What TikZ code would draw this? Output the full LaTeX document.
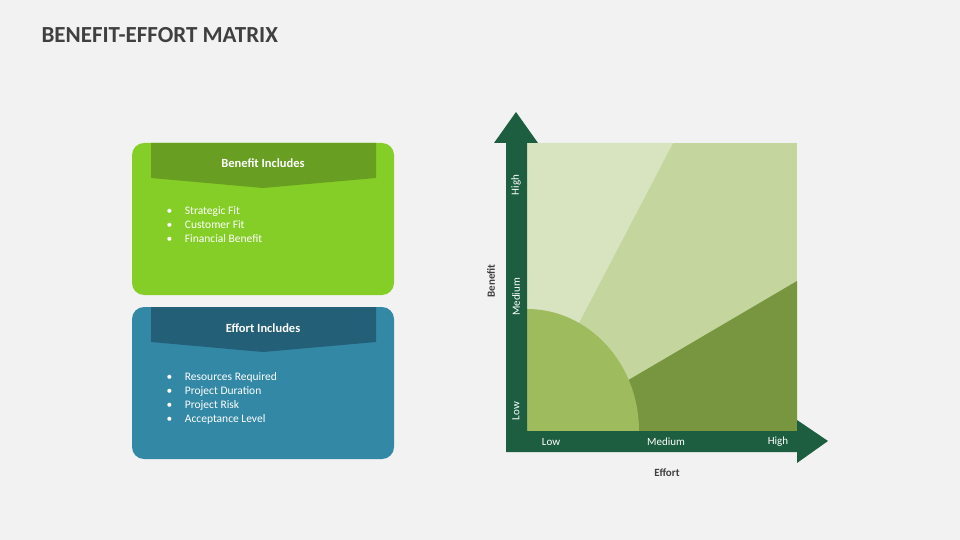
\documentclass[tikz,border=0pt]{standalone}
\usepackage{fontspec}
\setmainfont{Carlito}
\begin{document}
\begin{tikzpicture}[x=1pt,y=-1pt,
  tick/.style={text=white,font=\fontsize{11}{12}\selectfont},
  item/.style={text=white,font=\fontsize{11.5}{14}\selectfont,anchor=north west,align=left},
  head/.style={text=white,font=\bfseries\fontsize{12.5}{14}\selectfont}]
\definecolor{bg}{HTML}{F2F2F2}
\definecolor{axisg}{HTML}{1E5E40}
\definecolor{lt}{HTML}{D8E4C0}
\definecolor{md}{HTML}{C4D69E}
\definecolor{dk}{HTML}{77963F}
\definecolor{cr}{HTML}{9EBB5E}
\definecolor{gbox}{HTML}{85CE27}
\definecolor{ghead}{HTML}{689F22}
\definecolor{bbox}{HTML}{3388A6}
\definecolor{bhead}{HTML}{245F78}
\fill[bg] (0,0) rectangle (960,540);
\useasboundingbox (0,0) rectangle (960,540);
\node[anchor=west,text=black!75,font=\bfseries\fontsize{23}{26}\selectfont] (title) at (38,35) {BENEFIT-EFFORT MATRIX};
% boxes
\fill[gbox,rounded corners=12] (132,143) rectangle (394,295);
\fill[ghead,drop shadow/.style={}] (151,143) -- (376,143) -- (376,178) -- (263,188) -- (151,178) -- cycle;
\node[head] (bh) at (263,163) {Benefit Includes};
\node[item] (bl) at (163,203) {\textbullet\hspace{1.1em}Strategic Fit\\\textbullet\hspace{1.1em}Customer Fit\\\textbullet\hspace{1.1em}Financial Benefit};
\fill[bbox,rounded corners=12] (132,307) rectangle (394,459);
\fill[bhead] (151,307) -- (376,307) -- (376,342) -- (263,352) -- (151,342) -- cycle;
\node[head] (eh) at (263,328) {Effort Includes};
\node[item] (el) at (163,369) {\textbullet\hspace{1.1em}Resources Required\\\textbullet\hspace{1.1em}Project Duration\\\textbullet\hspace{1.1em}Project Risk\\\textbullet\hspace{1.1em}Acceptance Level};
% matrix
\fill[md] (527,143) rectangle (797,431);
\fill[lt] (527,143) -- (673,143) -- (570,340) -- (527,340) -- cycle;
\fill[dk] (797,281) -- (797,431) -- (620,431) -- (625,382) -- cycle;
\fill[cr] (527,431) -- (527,309) arc[start angle=90,end angle=0,x radius=112,y radius=-122] -- cycle;
% axes
\fill[axisg] (506,452) -- (506,143) -- (494,143) -- (516,112) -- (538,143) -- (527,143) -- (527,431) -- (797,431) -- (797,420) -- (828,441) -- (797,463) -- (797,452) -- cycle;
\node[tick,rotate=90] (yl) at (516,411) {Low};
\node[tick,rotate=90] (ym) at (516,297) {Medium};
\node[tick,rotate=90] (yh) at (516,185) {High};
\node[tick] (xl) at (551,442) {Low};
\node[tick] (xm) at (666,442) {Medium};
\node[tick] (xh) at (778,442) {High};
\node[rotate=90,text=black!75,font=\bfseries\fontsize{11}{12}\selectfont] (bn) at (491,281) {Benefit};
\node[text=black!75,font=\bfseries\fontsize{11}{12}\selectfont] (ef) at (667,473) {Effort};
\end{tikzpicture}
\end{document}
